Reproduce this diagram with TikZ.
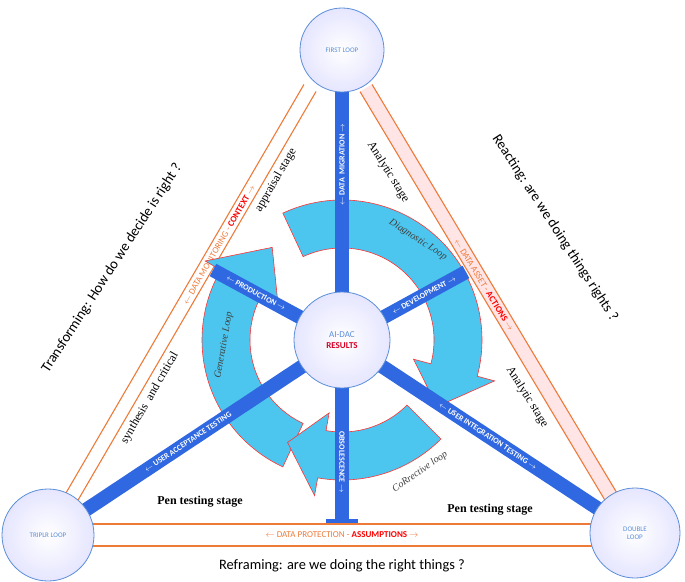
\documentclass[tikz,border=0pt]{standalone}
\usepackage{fontspec}
\setsansfont{Carlito}
\setmainfont{Liberation Serif}
\usetikzlibrary{calc}
\definecolor{band}{HTML}{EE7A3A}
\definecolor{spk}{HTML}{2F68E0}
\definecolor{ring}{HTML}{4CC6EE}
\definecolor{circ}{HTML}{5A8ED8}
\tikzset{
 bandline/.style={band,line width=1.1pt},
 spoke/.style={spk,line width=14pt},
 spoketxt/.style={text=white,font=\sffamily\bfseries\footnotesize,inner sep=1pt},
 bandtxt/.style={text=band,font=\sffamily\small,inner sep=1pt},
 loopc/.style={circle,draw=circ,line width=0.8pt,inner color=white,outer color=blue!10,text=circ,font=\sffamily\scriptsize,align=center},
 bigq/.style={font=\sffamily\Large},
 stagetxt/.style={font=\rmfamily\large},
 looptxt/.style={font=\rmfamily\itshape,text=black!75},
 ringfill/.style={fill=ring,draw=red!80,line width=0.6pt}
}
\newcommand\ringarrow[3]{\path[ringfill] (#1:140) arc[start angle=#1,end angle=#2,radius=140] -- (#2:158) -- (#3:116) -- (#2:74) -- (#2:92) arc[start angle=#2,end angle=#1,radius=92] -- cycle;}
\begin{document}
\begin{tikzpicture}[x=1pt,y=-1pt]
\useasboundingbox (0,0) rectangle (685,581);
\coordinate (f) at (342,50);
\coordinate (t) at (48,535);
\coordinate (d) at (635,533);
\coordinate (c) at (342,340);
% bands
\coordinate (la) at (310,88); \coordinate (lb) at (70,500);
\coordinate (ra) at (366,88); \coordinate (rb) at (613,500);
\fill[red!10] ($(ra)!7pt!90:(rb)$) -- ($(rb)!7pt!-90:(ra)$) -- ($(rb)!-7pt!-90:(ra)$) -- ($(ra)!-7pt!90:(rb)$) -- cycle;
\draw[bandline] ($(la)!7pt!90:(lb)$) -- ($(lb)!7pt!-90:(la)$);
\draw[bandline] ($(la)!-7pt!90:(lb)$) -- ($(lb)!-7pt!-90:(la)$);
\draw[bandline] ($(ra)!7pt!90:(rb)$) -- ($(rb)!7pt!-90:(ra)$);
\draw[bandline] ($(ra)!-7pt!90:(rb)$) -- ($(rb)!-7pt!-90:(ra)$);
\draw[bandline] (t) ++(0,-11) coordinate (b1) -- (d |- b1);
\draw[bandline] (t) ++(0,11) coordinate (b2) -- (d |- b2);
\node[bandtxt,rotate=60] (lbt) at (219,245) {$\leftarrow$ DATA MONITORING - \textcolor{red}{\bfseries CONTEXT} $\rightarrow$};
\node[bandtxt,rotate=-58.5] (rbt) at (484,285) {$\leftarrow$ DATA ASSET - \textcolor{red}{\bfseries ACTIONS} $\rightarrow$};
\node[bandtxt] (bbt) at (342,535) {$\leftarrow$ DATA PROTECTION - \textcolor{red}{\bfseries ASSUMPTIONS} $\rightarrow$};
% ring
\begin{scope}[shift={(c)},y=1pt]
\ringarrow{245}{150}{127}
\ringarrow{-45}{-100}{-118}
\ringarrow{115}{-15}{-35}
\end{scope}
% spokes
\coordinate (bot) at (342,521);
\coordinate (pr) at (213,270);
\coordinate (dv) at (466,272);
\draw[spoke] (f) -- (c);
\draw[spoke] (c) -- (bot);
\draw[spk,line width=4pt] ($(bot)+(-16,0)$) -- ($(bot)+(16,0)$);
\draw[spoke] (c) -- (t);
\draw[spoke] (c) -- (d);
\draw[spoke] (c) -- (pr);
\draw[spoke] (c) -- (dv);
\node[spoketxt,rotate=90] (sm) at (342,165) {$\leftarrow$ DATA\ \ MIGRATION $\rightarrow$};
\node[spoketxt,rotate=-90] (so) at (342,462) {OBSOLESCENCE $\rightarrow$};
\node[spoketxt,rotate=-28.5] (sp) at (256,293) {$\leftarrow$ PRODUCTION $\rightarrow$};
\node[spoketxt,rotate=28.7] (sd) at (424,295) {$\leftarrow$ DEVELOPMENT $\rightarrow$};
\node[spoketxt,rotate=33.6] (su) at (188,442) {$\leftarrow$ USER ACCEPTANCE TESTING};
\node[spoketxt,rotate=-33.4] (si) at (488,436) {$\leftarrow$ USER INTEGRATION TESTING $\rightarrow$};
% circles
\node[loopc,minimum size=84pt] (F) at (f) {FIRST LOOP};
\node[loopc,minimum size=92pt] (T) at (t) {TRIPLR LOOP};
\node[loopc,minimum size=90pt] (D) at (d) {DOUBLE\\LOOP};
\node[loopc,minimum size=96pt,font=\sffamily\small] (C) at (c) {AI-DAC\\\textcolor{red!85!blue}{\bfseries RESULTS}};
% big texts
\node[bigq,rotate=57] (q1) at (112,268) {Transforming: How do we decide is right ?};
\node[bigq,rotate=-57] (q2) at (555,228) {Reacting: are we doing things rights ?};
\node[bigq] (q3) at (342,566) {Reframing: are we doing the right things ?};
% stage texts
\node[stagetxt,rotate=60] (s1) at (276,180) {appraisal stage};
\node[stagetxt,rotate=-58] (s2) at (388,172) {Analytic stage};
\node[stagetxt,rotate=-58] (s3) at (527,397) {Analytic stage};
\node[stagetxt,rotate=60] (s4) at (150,398) {synthesis\ \ and critical};
\node[stagetxt,font=\rmfamily\bfseries\large] (s5) at (200,502) {Pen testing stage};
\node[stagetxt,font=\rmfamily\bfseries\large] (s6) at (490,510) {Pen testing stage};
% loop labels
\node[looptxt,rotate=-33] (l1) at (418,240) {Diagnostic Loop};
\node[looptxt,rotate=80] (l2) at (224,345) {Generative Loop};
\node[looptxt,rotate=35] (l3) at (420,472) {CoRrective loop};
\end{tikzpicture}
\end{document}
